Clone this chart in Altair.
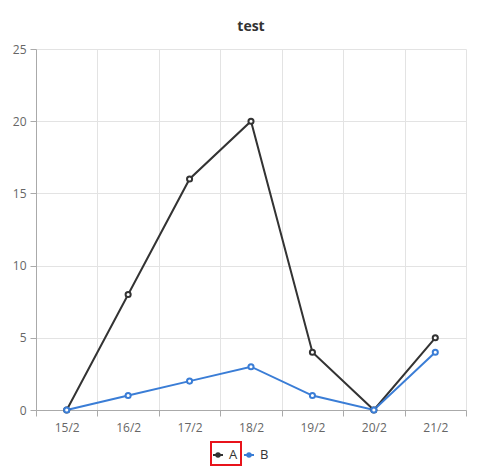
import altair as alt
import pandas as pd

days = ["15/2", "16/2", "17/2", "18/2", "19/2", "20/2", "21/2"]
series_names = ["A", "B"]
values_a = [0, 8, 16, 20, 4, 0, 5]
values_b = [0, 1, 2, 3, 1, 0, 4]
colors = ["#333333", "#3a7dd6"]
y_ticks = [0, 5, 10, 15, 20, 25]

df = pd.DataFrame({
    "day": days * 2,
    "series": [series_names[0]] * len(days) + [series_names[1]] * len(days),
    "value": values_a + values_b,
})

FONT = "Open Sans"

x_enc = alt.X("day:N", sort=days, bandPosition=0.5,
              scale=alt.Scale(type="band", paddingInner=0, paddingOuter=0),
              axis=alt.Axis(title=None, tickBand="extent", grid=True, gridColor="#e3e3e3",
                            domainColor="#aaaaaa", tickColor="#aaaaaa", tickSize=6,
                            labelColor="#666666", labelFontSize=12, labelFont=FONT,
                            labelPadding=6, labelAngle=0))
y_enc = alt.Y("value:Q", scale=alt.Scale(domain=[0, 25], nice=False),
              axis=alt.Axis(title=None, values=y_ticks, grid=True, gridColor="#e3e3e3",
                            domainColor="#aaaaaa", tickColor="#aaaaaa", tickSize=6,
                            labelColor="#666666", labelFontSize=12, labelFont=FONT,
                            labelPadding=4))
color_enc = alt.Color("series:N", scale=alt.Scale(domain=series_names, range=colors), legend=None)

base = alt.Chart(df)
lines = base.mark_line(strokeWidth=2).encode(x=x_enc, y=y_enc, color=color_enc)
points = base.mark_point(shape="circle", filled=True, fill="white", size=26, strokeWidth=2, opacity=1).encode(
    x=x_enc, y=y_enc, stroke=alt.Stroke("series:N", scale=alt.Scale(domain=series_names, range=colors), legend=None))

LY = 406
def legend_entry(name, color, x0):
    d = alt.Data(values=[{"s": name}])
    rule = alt.Chart(d).mark_rule(color=color, strokeWidth=2).encode(
        x=alt.value(x0), x2=alt.value(x0 + 10), y=alt.value(LY))
    dot = alt.Chart(d).mark_point(shape="circle", filled=True, color=color, size=30, opacity=1).encode(
        x=alt.value(x0 + 5), y=alt.value(LY))
    txt = alt.Chart(d).mark_text(align="left", baseline="middle", fontSize=13, font=FONT, color="#333333").encode(
        x=alt.value(x0 + 16), y=alt.value(LY), text="s:N")
    return [rule, dot, txt]

box = alt.Chart(alt.Data(values=[{"s": 1}])).mark_rect(fill=None, stroke="#e8131b", strokeWidth=2).encode(
    x=alt.value(175), x2=alt.value(205), y=alt.value(393), y2=alt.value(416))

legend_layers = legend_entry(series_names[0], colors[0], 177) + legend_entry(series_names[1], colors[1], 208)

chart = alt.layer(lines, points, *legend_layers, box).properties(
    width=430, height=361,
    title=alt.TitleParams("test", fontSize=14, font=FONT, fontWeight="bold", color="#333333",
                          anchor="middle", offset=9),
    autosize=alt.AutoSizeParams(type="none"),
    padding={"left": 28, "top": 41, "right": 21, "bottom": 60},
).configure_view(stroke=None)

chart.save("out.html", embed_options={"renderer": "svg", "actions": False})
